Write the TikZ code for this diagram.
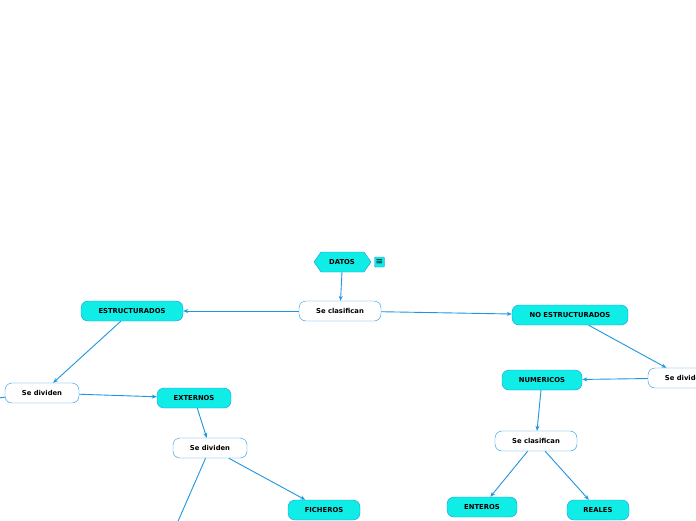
\documentclass[tikz,border=0pt]{standalone}
\usepackage{fontspec}
\setmainfont{DejaVu Sans}
\usetikzlibrary{arrows.meta}
\definecolor{ln}{HTML}{1E96E0}
\definecolor{cy}{HTML}{10ECE6}
\tikzset{
 base/.style={rounded corners=7pt,minimum height=20pt,inner sep=0pt,font=\fontsize{6.8}{7}\selectfont\bfseries},
 topic/.style={base,draw=ln,fill=cy},
 sub/.style={base,draw=ln,fill=white},
 con/.style={draw=ln,line width=0.9pt,-{Stealth[length=5pt,width=4pt]}},
}
\begin{document}
\begin{tikzpicture}[x=1pt,y=-1pt]
\clip (0,0) rectangle (696,520);
\fill[white] (0,0) rectangle (696,520);
\path[draw=ln,fill=cy] (314,262)--(321,252)--(364,252)--(371,262)--(364,272)--(321,272)--cycle;
\node[font=\fontsize{6.8}{7}\selectfont\bfseries] (datos) at (342,262) {DATOS};
\coordinate (datosB) at (342,272);
\node[draw=ln,fill=cy,minimum size=10pt,inner sep=0,rounded corners=1pt,font=\fontsize{9}{9}\selectfont] (ic) at (379.5,262) {≡};
\node[sub,minimum width=82pt] (sc) at (340,311) {Se clasifican};
\node[topic,minimum width=102pt] (est) at (132,311) {ESTRUCTURADOS};
\node[topic,minimum width=116pt] (noest) at (570,315) {NO ESTRUCTURADOS};
\node[sub,minimum width=74pt] (sdl) at (42,393) {Se dividen};
\node[topic,minimum width=74pt] (ext) at (194,398) {EXTERNOS};
\node[sub,minimum width=74pt] (sd) at (210,448) {Se dividen};
\node[topic,minimum width=72pt] (fic) at (324,510) {FICHEROS};
\node[sub,minimum width=74pt] (sdr) at (685,378) {Se dividen};
\node[topic,minimum width=80pt] (num) at (542,380) {NUMERICOS};
\node[sub,minimum width=82pt] (sc2) at (536,441) {Se clasifican};
\node[topic,minimum width=70pt] (ent) at (482,507) {ENTEROS};
\node[topic,minimum width=62pt] (real) at (598,510) {REALES};
\coordinate (offl) at (-20,400);
\coordinate (offb) at (172,535);
\draw[con] (datosB) -- (sc);
\draw[con] (sc) -- (est);
\draw[con] (sc) -- (noest);
\draw[con] (est) -- (sdl);
\draw[con] (sdl) -- (ext);
\draw[con] (sdl) -- (offl);
\draw[con] (ext) -- (sd);
\draw[con] (sd) -- (fic);
\draw[con] (sd) -- (offb);
\draw[con] (noest) -- (sdr);
\draw[con] (sdr) -- (num);
\draw[con] (num) -- (sc2);
\draw[con] (sc2) -- (ent);
\draw[con] (sc2) -- (real);
\end{tikzpicture}
\end{document}
